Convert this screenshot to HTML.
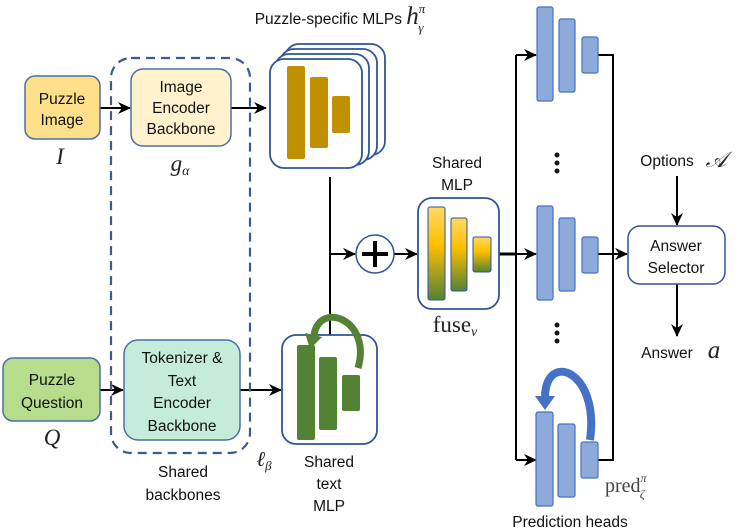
<!DOCTYPE html>
<html><head><meta charset="utf-8"><style>
html,body{margin:0;padding:0;background:#fff;}
svg{display:block;font-family:"Liberation Sans",sans-serif;}
.t{font-size:15.5px;fill:#111;text-anchor:middle;}
.m{font-family:"Liberation Serif",serif;font-style:italic;fill:#222;}
</style></head><body>
<svg width="738" height="532" viewBox="0 0 738 532" xmlns="http://www.w3.org/2000/svg">
<defs>
<marker id="ar" markerWidth="13" markerHeight="12" refX="12" refY="6" orient="auto" markerUnits="userSpaceOnUse">
<path d="M0,0 L13,6 L0,12 L4,6 Z" fill="#000"/></marker>
<linearGradient id="gy" x1="0" y1="0" x2="0" y2="1">
<stop offset="0" stop-color="#ffd966"/><stop offset="0.4" stop-color="#ffc000"/><stop offset="1" stop-color="#548235"/></linearGradient>
</defs>
<g stroke="#000" stroke-width="2" fill="none">
<line x1="100" y1="108" x2="130" y2="108" marker-end="url(#ar)"/>
<line x1="231" y1="108" x2="266" y2="108" marker-end="url(#ar)"/>
<line x1="100" y1="390" x2="123" y2="390" marker-end="url(#ar)"/>
<line x1="240" y1="390" x2="281" y2="390" marker-end="url(#ar)"/>
<line x1="330" y1="177" x2="330" y2="336"/>
<line x1="330" y1="254" x2="355" y2="254" marker-end="url(#ar)"/>
<line x1="394" y1="254" x2="417" y2="254" marker-end="url(#ar)"/>
<line x1="499" y1="254" x2="516" y2="254" stroke-width="3"/>
<line x1="516" y1="55" x2="516" y2="460"/>
<line x1="516" y1="55" x2="536" y2="55" marker-end="url(#ar)"/>
<line x1="516" y1="254" x2="536" y2="254" marker-end="url(#ar)"/>
<line x1="516" y1="460" x2="536" y2="460" marker-end="url(#ar)"/>
<polyline points="598,55 613,55 613,460 598,460"/>
<line x1="598" y1="254" x2="627" y2="254" marker-end="url(#ar)"/>
<line x1="677" y1="176" x2="677" y2="225" marker-end="url(#ar)"/>
<line x1="677" y1="284" x2="677" y2="336" marker-end="url(#ar)"/>
</g>
<rect x="111" y="58" width="139" height="395" rx="20" fill="none" stroke="#3d5a8a" stroke-width="2.2" stroke-dasharray="9,6"/>
<rect x="25" y="76" width="75" height="63" rx="10" fill="#ffe08a" stroke="#4a6fa5" stroke-width="1.5"/>
<text class="t" x="62" y="104">Puzzle</text><text class="t" x="62" y="125">Image</text>
<text class="m" x="60" y="164" font-size="23" text-anchor="middle">I</text>
<rect x="131" y="69" width="100" height="77" rx="12" fill="#fff2cc" stroke="#4a6fa5" stroke-width="1.5"/>
<text class="t" x="181" y="92">Image</text><text class="t" x="181" y="113">Encoder</text><text class="t" x="181" y="134">Backbone</text>
<text class="m" x="180" y="171" font-size="23" text-anchor="middle">g<tspan font-size="14" dy="4">α</tspan></text>
<text class="t" x="340" y="24">Puzzle-specific MLPs <tspan class="m" font-size="25">h</tspan><tspan class="m" font-size="13" dy="-11">π</tspan><tspan class="m" font-size="13" dx="-7" dy="19">γ</tspan></text>
<g fill="#fff" stroke="#2f5597" stroke-width="1.8">
<rect x="285" y="44" width="100" height="111" rx="14"/>
<rect x="280" y="49" width="97" height="111" rx="14"/>
<rect x="275" y="54" width="94" height="111" rx="14"/>
<rect x="270" y="59" width="92" height="109" rx="14"/>
</g>
<g fill="#bf9000">
<rect x="287" y="66" width="18" height="93" rx="2"/><rect x="310" y="77" width="18" height="71" rx="2"/><rect x="332" y="96" width="18" height="37" rx="2"/></g>
<circle cx="375" cy="254" r="19" fill="#fff" stroke="#2f5597" stroke-width="1.5"/>
<path d="M362,254 H388 M375,241 V267" stroke="#000" stroke-width="4"/>
<text class="t" x="457" y="168">Shared</text><text class="t" x="457" y="190">MLP</text>
<rect x="418" y="198" width="81" height="111" rx="14" fill="#fff" stroke="#2f5597" stroke-width="1.8"/>
<g fill="url(#gy)" stroke="#2f5597" stroke-width="1">
<rect x="428" y="207" width="17" height="93" rx="2"/><rect x="451" y="218" width="16" height="73" rx="2"/><rect x="473" y="237" width="18" height="35" rx="2"/></g>
<text x="455" y="332" font-family="Liberation Serif,serif" font-size="23" fill="#222" text-anchor="middle">fuse<tspan font-style="italic" font-size="14" dy="4">ν</tspan></text>
<g fill="#8eaadb" stroke="#4472c4" stroke-width="1.2">
<rect x="537" y="7" width="16" height="94" rx="2"/><rect x="559" y="19" width="16" height="73" rx="2"/><rect x="582" y="37" width="16" height="36" rx="2"/>
<rect x="537" y="206" width="16" height="94" rx="2"/><rect x="559" y="218" width="16" height="73" rx="2"/><rect x="582" y="237" width="16" height="36" rx="2"/>
<rect x="536" y="412" width="17" height="94" rx="2"/><rect x="558" y="424" width="17" height="73" rx="2"/><rect x="581" y="442" width="17" height="36" rx="2"/>
</g>
<g fill="#111"><circle cx="557" cy="155" r="2.5"/><circle cx="557" cy="163" r="2.5"/><circle cx="557" cy="171" r="2.5"/>
<circle cx="557" cy="325" r="2.5"/><circle cx="557" cy="333" r="2.5"/><circle cx="557" cy="341" r="2.5"/></g>
<path d="M590,440 C600,370 545,350 545,398" fill="none" stroke="#4472c4" stroke-width="8"/>
<path d="M535,396 L555,396 L545,410 Z" fill="#4472c4"/>
<text class="t" x="570" y="527">Prediction heads</text>
<text x="605" y="492" font-family="Liberation Serif,serif" font-size="20" fill="#444">pred<tspan font-style="italic" font-size="12" dy="-10">π</tspan><tspan font-style="italic" font-size="12" dx="-7" dy="16">ζ</tspan></text>
<text class="t" x="667" y="166">Options</text>
<text class="m" x="716" y="167" font-size="22" text-anchor="middle">𝒜</text>
<rect x="628" y="226" width="97" height="58" rx="12" fill="#fff" stroke="#2f5597" stroke-width="1.5"/>
<text class="t" x="676" y="251">Answer</text><text class="t" x="676" y="273">Selector</text>
<text class="t" x="667" y="358">Answer</text>
<text class="m" x="714" y="358" font-size="25" text-anchor="middle">a</text>
<rect x="3" y="358" width="97" height="63" rx="10" fill="#b6dd8c" stroke="#4a6fa5" stroke-width="1.5"/>
<text class="t" x="52" y="385">Puzzle</text><text class="t" x="52" y="408">Question</text>
<text class="m" x="52" y="445" font-size="23" text-anchor="middle">Q</text>
<rect x="124" y="340" width="116" height="100" rx="14" fill="#c5ecd9" stroke="#4a6fa5" stroke-width="1.5"/>
<text class="t" x="182" y="363">Tokenizer &amp;</text><text class="t" x="182" y="386">Text</text><text class="t" x="182" y="408">Encoder</text><text class="t" x="182" y="431">Backbone</text>
<text class="t" x="183" y="477">Shared</text><text class="t" x="183" y="500">backbones</text>
<text class="m" x="264" y="466" font-size="21" fill="#555" text-anchor="middle">ℓ<tspan font-size="13" dy="4">β</tspan></text>
<rect x="282" y="335" width="95" height="109" rx="14" fill="#fff" stroke="#2f5597" stroke-width="1.8"/>
<g fill="#548235">
<rect x="297" y="345" width="18" height="95" rx="2"/><rect x="319" y="357" width="18" height="73" rx="2"/><rect x="342" y="375" width="18" height="36" rx="2"/></g>
<path d="M358,368 C372,320 320,300 314,335" fill="none" stroke="#548235" stroke-width="7"/>
<path d="M305,333 L322,337 L310,349 Z" fill="#548235"/>
<text class="t" x="329" y="467">Shared</text><text class="t" x="329" y="489">text</text><text class="t" x="329" y="511">MLP</text>
</svg>
</body></html>
